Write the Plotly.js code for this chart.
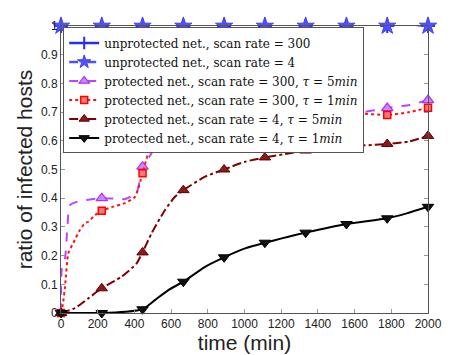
<!DOCTYPE html>
<html>
<head>
<meta charset="utf-8">
<script src="https://cdn.plot.ly/plotly-3.0.1.min.js"></script>
<style>html,body{margin:0;padding:0;background:#fff;}#chart{width:474px;height:355px;}</style>
</head>
<body>
<div id="chart"></div>
<script>
// ---- data ----
var seriesNames = [
  "unprotected net., scan rate = 300",
  "unprotected net., scan rate = 4",
  "protected net., scan rate = 300, <i>τ</i> = 5<i>min</i>",
  "protected net., scan rate = 300, <i>τ</i> = 1<i>min</i>",
  "protected net., scan rate = 4, <i>τ</i> = 5<i>min</i>",
  "protected net., scan rate = 4, <i>τ</i> = 1<i>min</i>"
];
var markTime = [0, 222.2, 444.4, 666.7, 888.9, 1111.1, 1333.3, 1555.6, 1777.8, 2000];

// unprotected, scan rate 300
var t1 = [0, 2, 2000];
var y1 = [0, 1, 1];
var m1 = [1, 1, 1, 1, 1, 1, 1, 1, 1, 1];
// unprotected, scan rate 4
var t2 = [0, 4, 2000];
var y2 = [0, 1, 1];
var m2 = [1, 1, 1, 1, 1, 1, 1, 1, 1, 1];
// protected, scan rate 300, tau 5
var t3 = [0, 4, 22, 35, 49, 100, 150, 222, 300, 349, 412, 444, 494, 512, 566, 667, 889, 1111, 1333, 1556, 1613, 1778, 1900, 2000];
var y3 = [0, 0.15, 0.19, 0.30, 0.376, 0.39, 0.395, 0.40, 0.398, 0.397, 0.42, 0.51, 0.557, 0.60, 0.627, 0.655, 0.675, 0.685, 0.692, 0.697, 0.697, 0.714, 0.725, 0.742];
var m3 = [0, 0.40, 0.51, 0.655, 0.675, 0.685, 0.692, 0.697, 0.714, 0.742];
// protected, scan rate 300, tau 1
var t4 = [0, 10, 22, 40, 67, 103, 131, 149, 185, 222, 276, 349, 403, 444, 476, 512, 567, 667, 889, 1111, 1333, 1556, 1611, 1778, 1900, 2000];
var y4 = [0, 0.03, 0.092, 0.208, 0.244, 0.289, 0.313, 0.318, 0.341, 0.356, 0.369, 0.383, 0.405, 0.487, 0.556, 0.592, 0.627, 0.65, 0.668, 0.68, 0.688, 0.694, 0.696, 0.69, 0.70, 0.715];
var m4 = [0, 0.356, 0.487, 0.65, 0.668, 0.68, 0.688, 0.694, 0.69, 0.715];
// protected, scan rate 4, tau 5
var t5 = [0, 76, 149, 222, 331, 412, 444, 494, 567, 621, 667, 785, 889, 1003, 1111, 1239, 1333, 1556, 1778, 1893, 2000];
var y5 = [0, 0.017, 0.051, 0.086, 0.127, 0.173, 0.211, 0.278, 0.359, 0.405, 0.428, 0.475, 0.50, 0.527, 0.542, 0.556, 0.566, 0.580, 0.589, 0.597, 0.617];
var m5 = [0, 0.086, 0.211, 0.428, 0.50, 0.542, 0.566, 0.580, 0.589, 0.617];
// protected, scan rate 4, tau 1
var t6 = [0, 222, 350, 444, 512, 585, 667, 785, 889, 1003, 1111, 1239, 1333, 1556, 1778, 1884, 2000];
var y6 = [0, 0, 0.004, 0.013, 0.045, 0.08, 0.109, 0.161, 0.194, 0.225, 0.245, 0.266, 0.280, 0.310, 0.330, 0.347, 0.370];
var m6 = [0, 0, 0.013, 0.109, 0.194, 0.245, 0.280, 0.310, 0.330, 0.370];

var xTicks = [0, 200, 400, 600, 800, 1000, 1200, 1400, 1600, 1800, 2000];
var yTicks = [0, 0.1, 0.2, 0.3, 0.4, 0.5, 0.6, 0.7, 0.8, 0.9, 1];

// ---- styles ----
var styles = [
  {color: "#2b2bf0", dash: "solid", width: 2.5, symbol: "cross-thin-open", size: 10, lsize: 9, fill: "#2b2bf0", mline: "#2b2bf0", mw: 2},
  {color: "#5050ff", dash: "dash", width: 2.5, symbol: "star", size: 13, lsize: 10, fill: "#5050ff", mline: "#4040f0", mw: 1},
  {color: "#bb44ff", dash: "dash", width: 2, symbol: "triangle-up", size: 10, lsize: 9, fill: "#cc88ff", mline: "#aa33ee", mw: 1.2},
  {color: "#ff1111", dash: "dot", width: 2, symbol: "square", size: 7, lsize: 7, fill: "#ff7777", mline: "#ff0000", mw: 1.5},
  {color: "#800000", dash: "dashdot", width: 2, symbol: "triangle-up", size: 10, lsize: 9, fill: "#8b1a1a", mline: "#600000", mw: 1},
  {color: "#000000", dash: "solid", width: 2, symbol: "triangle-down", size: 10, lsize: 9, fill: "#111111", mline: "#000000", mw: 1}
];
var lines = [[t1, y1], [t2, y2], [t3, y3], [t4, y4], [t5, y5], [t6, y6]];
var marks = [m1, m2, m3, m4, m5, m6];

var traces = [];
for (var i = 0; i < 6; i++) {
  var s = styles[i];
  traces.push({
    x: lines[i][0], y: lines[i][1], mode: "lines", type: "scatter",
    line: {color: s.color, dash: s.dash, width: s.width, shape: "spline", smoothing: 0.6},
    showlegend: false, hoverinfo: "skip", cliponaxis: false
  });
  traces.push({
    x: markTime, y: marks[i], mode: "markers", type: "scatter",
    marker: {symbol: s.symbol, size: s.size, color: s.fill, line: {color: s.mline, width: s.mw}},
    showlegend: false, hoverinfo: "skip", cliponaxis: false
  });
}
// legend entries
for (var j = 0; j < 6; j++) {
  var st = styles[j];
  traces.push({
    x: [null], y: [null], mode: "lines+markers", type: "scatter", name: seriesNames[j],
    line: {color: st.color, dash: st.dash, width: st.width},
    marker: {symbol: st.symbol, size: st.lsize, color: st.fill, line: {color: st.mline, width: st.mw}}
  });
}

var layout = {
  width: 474, height: 355,
  margin: {l: 61, r: 46, t: 26, b: 42, pad: 0},
  paper_bgcolor: "#ffffff", plot_bgcolor: "#ffffff",
  font: {family: "Liberation Sans, Arial, sans-serif", color: "#222", size: 12},
  showlegend: true,
  legend: {
    x: 0.006, y: 0.995, xanchor: "left", yanchor: "top",
    bgcolor: "#ffffff", bordercolor: "#555", borderwidth: 1,
    font: {family: "DejaVu Serif, Liberation Serif, serif", size: 12, color: "#111"},
    tracegroupgap: 0, itemwidth: 30
  },
  xaxis: {
    range: [0, 2000], tickvals: xTicks, ticktext: xTicks.map(String),
    ticks: "inside", ticklen: 4, tickcolor: "#999", showgrid: false, zeroline: false,
    showline: true, linecolor: "#555", linewidth: 1, mirror: true,
    tickfont: {size: 12, color: "#222"},
    title: {text: "time (min)", font: {size: 21, color: "#222"}, standoff: 2}
  },
  yaxis: {
    range: [0, 1], tickvals: yTicks, ticktext: yTicks.map(String),
    ticks: "inside", ticklen: 4, tickcolor: "#999", showgrid: false, zeroline: false,
    showline: true, linecolor: "#555", linewidth: 1, mirror: "ticks",
    tickfont: {size: 12, color: "#222"},
    title: {text: "ratio of infected hosts", font: {size: 21, color: "#222"}, standoff: 2}
  }
};

Plotly.newPlot("chart", traces, layout, {displayModeBar: false, staticPlot: true});
</script>
</body>
</html>
